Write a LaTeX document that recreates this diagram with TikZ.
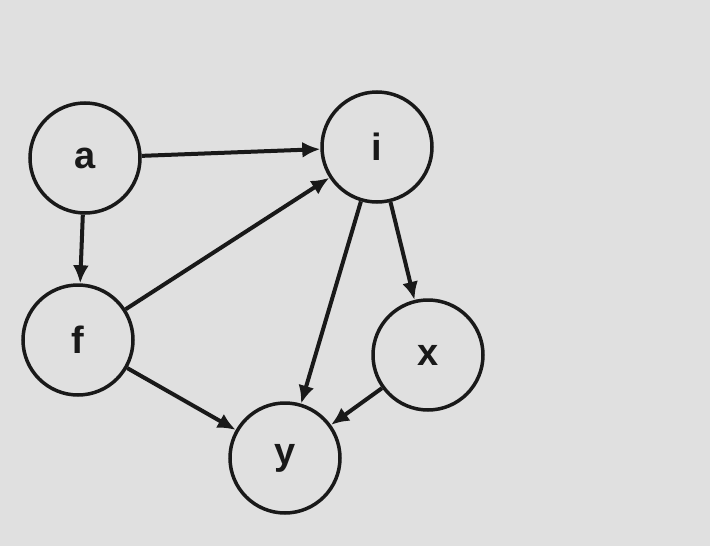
\documentclass[tikz,border=0pt]{standalone}
\usepackage{fontspec}
\setmainfont{Liberation Sans}
\usetikzlibrary{arrows.meta}
\begin{document}
\begin{tikzpicture}[x=1pt,y=-1pt,
  vert/.style={circle,draw=black!90,line width=3.5pt,minimum size=110pt,inner sep=0pt,font=\fontsize{38}{38}\selectfont\bfseries,text=black!90},
  edge/.style={line width=4pt,draw=black!90,-{Latex[length=18pt,width=16pt]}}]
\fill[black!12] (0,0) rectangle (710,546);
\useasboundingbox (0,0) rectangle (710,546);
\node[vert] (a) at (85,158) {a};
\node[vert] (i) at (377,147) {i};
\node[vert] (f) at (78,340) {f};
\node[vert] (x) at (428,355) {x};
\node[vert] (y) at (285,458) {y};
\draw[edge] (a) -- (i);
\draw[edge] (a) -- (f);
\draw[edge] (f) -- (i);
\draw[edge] (i) -- (y);
\draw[edge] (i) -- (x);
\draw[edge] (f) -- (y);
\draw[edge] (x) -- (y);
\end{tikzpicture}
\end{document}
